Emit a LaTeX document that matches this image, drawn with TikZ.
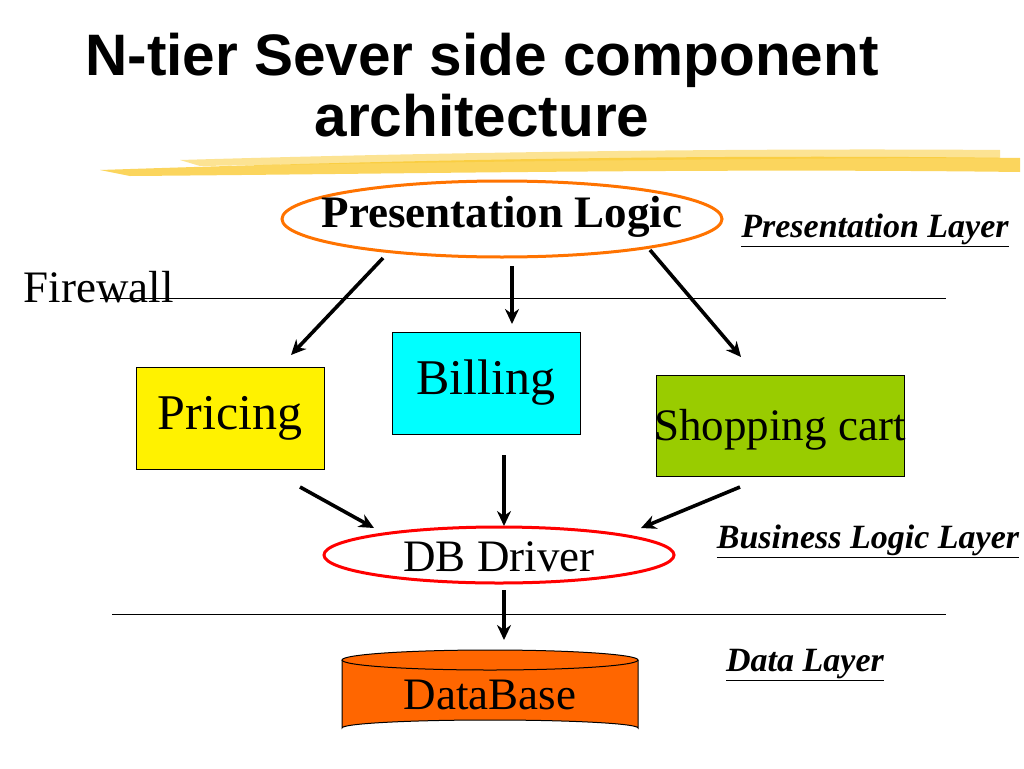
\documentclass[tikz,border=0pt]{standalone}
\usepackage{fontspec}
\setmainfont{Liberation Serif}
\newfontfamily\titlefont{Liberation Sans}
\usetikzlibrary{shapes.geometric,arrows.meta}
\definecolor{dborange}{RGB}{255,102,0}
\definecolor{cartgreen}{RGB}{153,204,0}
\definecolor{billcyan}{RGB}{0,255,255}
\definecolor{hl}{RGB}{250,200,40}
\begin{document}
\begin{tikzpicture}[x=1pt,y=-1pt,
  arr/.style={line width=3.6pt,-{Stealth[length=15pt,width=14pt]}},
  box/.style={draw=black,line width=1pt,minimum width=#1,minimum height=102pt,inner sep=0pt},
  layer/.style={font=\fontsize{34}{38}\selectfont\bfseries\itshape},
  sep/.style={line width=1pt}]
\useasboundingbox (0,0) rectangle (1024,768);
\fill[white] (0,0) rectangle (1024,768);
% title
\node[font=\titlefont\bfseries\fontsize{58.5}{64}\selectfont] (t1) at (482,60) {N-tier Sever side component};
\node[font=\titlefont\bfseries\fontsize{58.5}{64}\selectfont] (t2) at (482,116) {architecture};
% highlighter
\fill[hl,opacity=0.75] (100,170) .. controls (400,160) and (700,154) .. (1020,158) -- (1020,172) .. controls (700,168) and (400,174) .. (130,176) -- cycle;
\fill[hl,opacity=0.5] (180,160) .. controls (450,152) and (750,148) .. (1000,150) -- (1000,158) .. controls (750,158) and (450,162) .. (200,166) -- cycle;
% presentation
\node[ellipse,draw=orange!90!red,line width=3pt,minimum width=440pt,minimum height=76pt] (pl) at (502,219) {};
\node[font=\fontsize{45}{50}\selectfont\bfseries] (plt) at (502,217) {Presentation Logic};
\node[layer] (play) at (875,230) {\underline{Presentation Layer}};
\node[font=\fontsize{45}{50}\selectfont,anchor=west] (fw) at (20,287) {Firewall};
\coordinate (f1) at (100,298); \coordinate (f2) at (946,298);
\draw[sep] (f1) -- (f2);
% boxes
\node[box=188pt,fill=yellow,font=\fontsize{50}{55}\selectfont] (pr) at (230,418) {Pricing};
\node[box=188pt,fill=billcyan,font=\fontsize{50}{55}\selectfont] (bi) at (486,383) {Billing};
\node[box=248pt,fill=cartgreen,minimum height=101pt] (sc) at (780,426) {};
\node[font=\fontsize{45}{50}\selectfont] (sct) at (780,430) {Shopping cart};
\coordinate (a1) at (383,258); \coordinate (a1e) at (291,355);
\coordinate (a2) at (512,266); \coordinate (a2e) at (512,324);
\coordinate (a3) at (650,250); \coordinate (a3e) at (741,357);
\draw[arr] (a1) -- (a1e); \draw[arr] (a2) -- (a2e); \draw[arr] (a3) -- (a3e);
% db driver
\node[ellipse,draw=red,line width=3pt,minimum width=350pt,minimum height=56pt] (dd) at (499,555) {};
\node[font=\fontsize{45}{50}\selectfont] (ddt) at (499,557) {DB Driver};
\coordinate (b1) at (300,487); \coordinate (b1e) at (374,528);
\coordinate (b2) at (504,455); \coordinate (b2e) at (504,526);
\coordinate (b3) at (740,487); \coordinate (b3e) at (641,528);
\draw[arr] (b1) -- (b1e); \draw[arr] (b2) -- (b2e); \draw[arr] (b3) -- (b3e);
\node[layer] (bl) at (868,541) {\underline{Business Logic Layer}};
\coordinate (g1) at (112,614); \coordinate (g2) at (946,614);
\draw[sep] (g1) -- (g2);
% database
\coordinate (c1) at (504,590); \coordinate (c1e) at (504,640);
\draw[arr] (c1) -- (c1e);
\filldraw[fill=dborange,draw=black,line width=1pt] (342,660) -- (342,728) arc[start angle=180,end angle=360,x radius=148,y radius=8] -- (638,660);
\filldraw[fill=dborange,draw=black,line width=1pt] (490,660) ellipse[x radius=148,y radius=10];
\node[font=\fontsize{45}{50}\selectfont] (db) at (490,695) {DataBase};
\node[layer] (dl) at (805,665) {\underline{Data Layer}};
\end{tikzpicture}
\end{document}
